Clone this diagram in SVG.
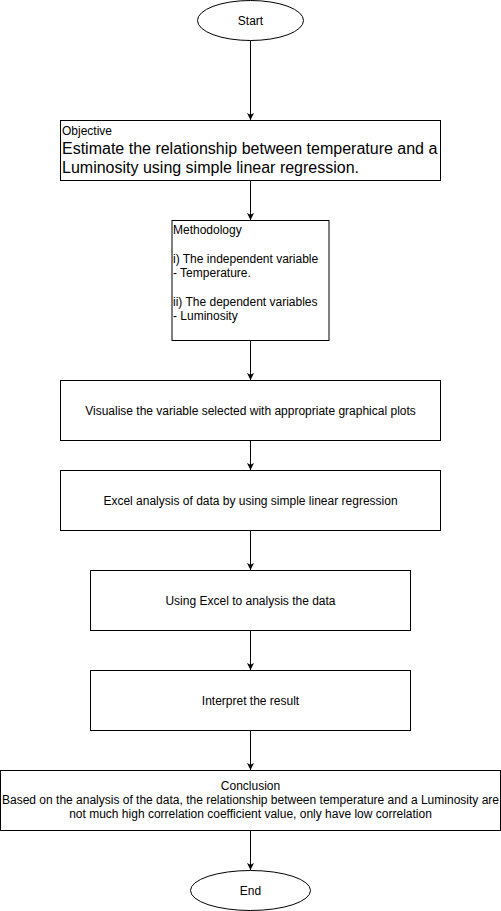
<svg xmlns="http://www.w3.org/2000/svg" width="501" height="911" viewBox="0 0 501 911">
<style>
.box{fill:#ffffff;stroke:#000000;stroke-width:1}
.t{font-family:"Liberation Sans",Arial,Helvetica,sans-serif;font-size:12px;fill:#000000}
.c{text-anchor:middle}
.big{font-size:16px}
.edge{fill:none;stroke:#000000;stroke-width:1;marker-end:url(#arr)}
</style>
<defs>
<marker id="arr" viewBox="0 0 8 8" refX="8" refY="4" markerWidth="7" markerHeight="7" markerUnits="userSpaceOnUse" orient="auto">
<path d="M0,0 L8,4 L0,8 L2,4 Z" fill="#000000"/>
</marker>
</defs>
<rect width="501" height="911" fill="#ffffff"/>
<g id="connectors">
<line class="edge" x1="250.5" y1="40.5" x2="250.5" y2="120"/>
<line class="edge" x1="250.5" y1="180.5" x2="250.5" y2="220"/>
<line class="edge" x1="250.5" y1="340.5" x2="250.5" y2="380"/>
<line class="edge" x1="250.5" y1="440.5" x2="250.5" y2="470"/>
<line class="edge" x1="250.5" y1="530.5" x2="250.5" y2="570"/>
<line class="edge" x1="250.5" y1="630.5" x2="250.5" y2="670"/>
<line class="edge" x1="250.5" y1="730.5" x2="250.5" y2="770"/>
<line class="edge" x1="250.5" y1="830.5" x2="250.5" y2="870"/>
</g>
<g id="start">
<ellipse class="box" cx="250.5" cy="20.5" rx="53" ry="20"/>
<text class="t c" x="250.5" y="24.5">Start</text>
</g>
<g id="objective">
<rect class="box" x="60.5" y="120.5" width="380" height="60"/>
<text class="t" x="62" y="135">Objective</text>
<text class="t big" x="62" y="153.5">Estimate the relationship between temperature and a</text>
<text class="t big" x="62" y="172.5">Luminosity using simple linear regression.</text>
</g>
<g id="methodology">
<rect class="box" x="172" y="220.5" width="157" height="120"/>
<text class="t" x="173" y="234">Methodology</text>
<text class="t" x="173" y="262.8">i) The independent variable</text>
<text class="t" x="173" y="277.2">- Temperature.</text>
<text class="t" x="173" y="306">ii) The dependent variables</text>
<text class="t" x="173" y="320.4">- Luminosity</text>
</g>
<g id="visualise">
<rect class="box" x="60.5" y="380.5" width="380" height="60"/>
<text class="t c" x="250.5" y="414.5">Visualise the variable selected with appropriate graphical plots</text>
</g>
<g id="excel-analysis">
<rect class="box" x="60.5" y="470.5" width="380" height="60"/>
<text class="t c" x="250.5" y="504.5">Excel analysis of data by using simple linear regression</text>
</g>
<g id="using-excel">
<rect class="box" x="90.5" y="570.5" width="320" height="60"/>
<text class="t c" x="250.5" y="604.5">Using Excel to analysis the data</text>
</g>
<g id="interpret">
<rect class="box" x="90.5" y="670.5" width="320" height="60"/>
<text class="t c" x="250.5" y="704.5">Interpret the result</text>
</g>
<g id="conclusion">
<rect class="box" x="0.5" y="770.5" width="500" height="60"/>
<text class="t c" x="250.5" y="789.5">Conclusion</text>
<text class="t c" x="250.5" y="804">Based on the analysis of the data, the relationship between temperature and a Luminosity are</text>
<text class="t c" x="250.5" y="818.4">not much high correlation coefficient value, only have low correlation</text>
</g>
<g id="end">
<ellipse class="box" cx="250.5" cy="890.5" rx="60" ry="20"/>
<text class="t c" x="250.5" y="894.5">End</text>
</g>
</svg>
